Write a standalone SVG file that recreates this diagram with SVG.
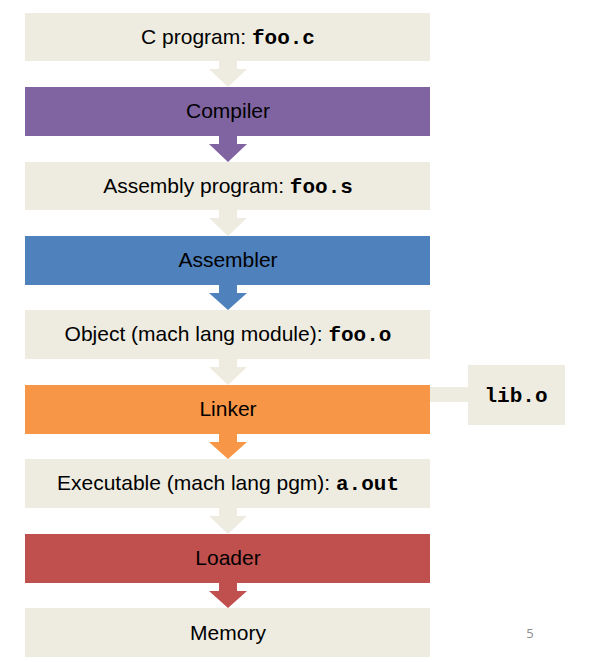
<svg xmlns="http://www.w3.org/2000/svg" width="597" height="662" viewBox="0 0 597 662">
<style>
.lbl{font-family:"Liberation Sans",Arial,sans-serif;font-size:21px;fill:#000;text-anchor:middle}
.mono{font-family:"Liberation Mono","Courier New",monospace;font-weight:bold;font-size:21px}
.beige{fill:#EEECE1}
.purple{fill:#8064A2}
.blue{fill:#4F81BD}
.orange{fill:#F79646}
.red{fill:#C0504D}
</style>
<rect width="597" height="662" fill="#fff"/>
<g id="connectors">
<polygon class="beige" points="219,61 237,61 237,69 247,69 228,87 209,69 219,69"/>
<polygon class="purple" points="219,136 237,136 237,144 247,144 228,162 209,144 219,144"/>
<polygon class="beige" points="219,210 237,210 237,218 247,218 228,236 209,218 219,218"/>
<polygon class="blue" points="219,285 237,285 237,293 247,293 228,310 209,293 219,293"/>
<polygon class="beige" points="219,359 237,359 237,367 247,367 228,385 209,367 219,367"/>
<polygon class="orange" points="219,434 237,434 237,442 247,442 228,459 209,442 219,442"/>
<polygon class="beige" points="219,508 237,508 237,516 247,516 228,534 209,516 219,516"/>
<polygon class="red" points="219,583 237,583 237,591 247,591 228,608 209,591 219,591"/>
<rect class="beige" x="425" y="387" width="45" height="15"/>
</g>
<g id="n1"><rect class="beige" x="25" y="13" width="405" height="48"/><text class="lbl" x="228" y="44">C program: <tspan class="mono">foo.c</tspan></text></g>
<g id="n2"><rect class="purple" x="25" y="87" width="405" height="49"/><text class="lbl" x="228" y="118">Compiler</text></g>
<g id="n3"><rect class="beige" x="25" y="162" width="405" height="48"/><text class="lbl" x="228" y="193">Assembly program: <tspan class="mono">foo.s</tspan></text></g>
<g id="n4"><rect class="blue" x="25" y="236" width="405" height="49"/><text class="lbl" x="228" y="267">Assembler</text></g>
<g id="n5"><rect class="beige" x="25" y="310" width="405" height="49"/><text class="lbl" x="228" y="341">Object (mach lang module): <tspan class="mono">foo.o</tspan></text></g>
<g id="n6"><rect class="orange" x="25" y="385" width="405" height="49"/><text class="lbl" x="228" y="416">Linker</text></g>
<g id="n7"><rect class="beige" x="25" y="459" width="405" height="49"/><text class="lbl" x="228" y="490">Executable (mach lang pgm): <tspan class="mono">a.out</tspan></text></g>
<g id="n8"><rect class="red" x="25" y="534" width="405" height="49"/><text class="lbl" x="228" y="565">Loader</text></g>
<g id="n9"><rect class="beige" x="25" y="608" width="405" height="49"/><text class="lbl" x="228" y="640">Memory</text></g>
<g id="lib"><rect class="beige" x="468" y="365" width="97" height="60"/><text class="lbl mono" x="516" y="402">lib.o</text></g>
<text x="530" y="638" font-family="'Open Sans','DejaVu Sans',sans-serif" font-size="13" fill="#8c8c8c" text-anchor="middle">5</text>
</svg>
